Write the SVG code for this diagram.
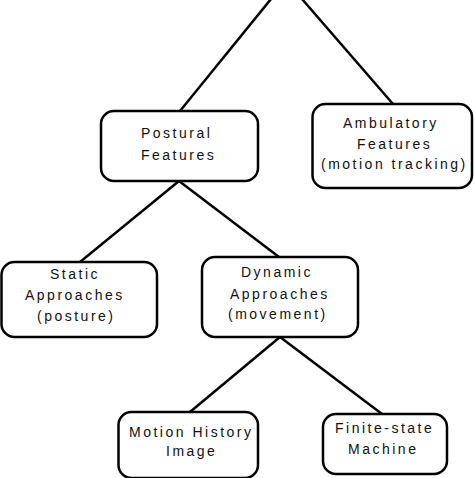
<svg xmlns="http://www.w3.org/2000/svg" width="474" height="478" viewBox="0 0 474 478">
<style>
.box{fill:#fff;stroke:#000;stroke-width:2.5}
.edge{stroke:#000;stroke-width:2.5;fill:none}
text{font-family:"Liberation Sans",Arial,sans-serif;font-size:14px;letter-spacing:2.5px;fill:#111}
</style>
<rect width="474" height="478" fill="#fff"/>
<g id="connectors">
<line class="edge" x1="271" y1="-1" x2="180" y2="111"/>
<line class="edge" x1="302" y1="-1" x2="393" y2="104"/>
<line class="edge" x1="179" y1="181" x2="80" y2="262"/>
<line class="edge" x1="179" y1="181" x2="279" y2="257"/>
<line class="edge" x1="280" y1="337" x2="190" y2="412"/>
<line class="edge" x1="280" y1="337" x2="382" y2="414"/>
</g>
<g id="postural">
<rect class="box" x="101" y="111" width="157" height="70" rx="13"/>
<text x="141" y="138">Postural</text>
<text x="141" y="160">Features</text>
</g>
<g id="ambulatory">
<rect class="box" x="312.5" y="104" width="159.5" height="84" rx="13"/>
<text x="343" y="128">Ambulatory</text>
<text x="357" y="149">Features</text>
<text x="321" y="169">(motion tracking)</text>
</g>
<g id="static">
<rect class="box" x="1.5" y="262" width="155.5" height="75" rx="13"/>
<text x="50" y="279">Static</text>
<text x="25" y="300">Approaches</text>
<text x="37" y="321">(posture)</text>
</g>
<g id="dynamic">
<rect class="box" x="202" y="257" width="156" height="80" rx="13"/>
<text x="241" y="277">Dynamic</text>
<text x="230" y="299">Approaches</text>
<text x="228" y="319">(movement)</text>
</g>
<g id="mhi">
<rect class="box" x="118.5" y="412" width="139.5" height="66" rx="13"/>
<text x="129" y="437">Motion History</text>
<text x="166" y="456">Image</text>
</g>
<g id="fsm">
<rect class="box" x="323" y="414" width="124" height="60" rx="13"/>
<text x="335" y="433">Finite-state</text>
<text x="348" y="454">Machine</text>
</g>
</svg>
